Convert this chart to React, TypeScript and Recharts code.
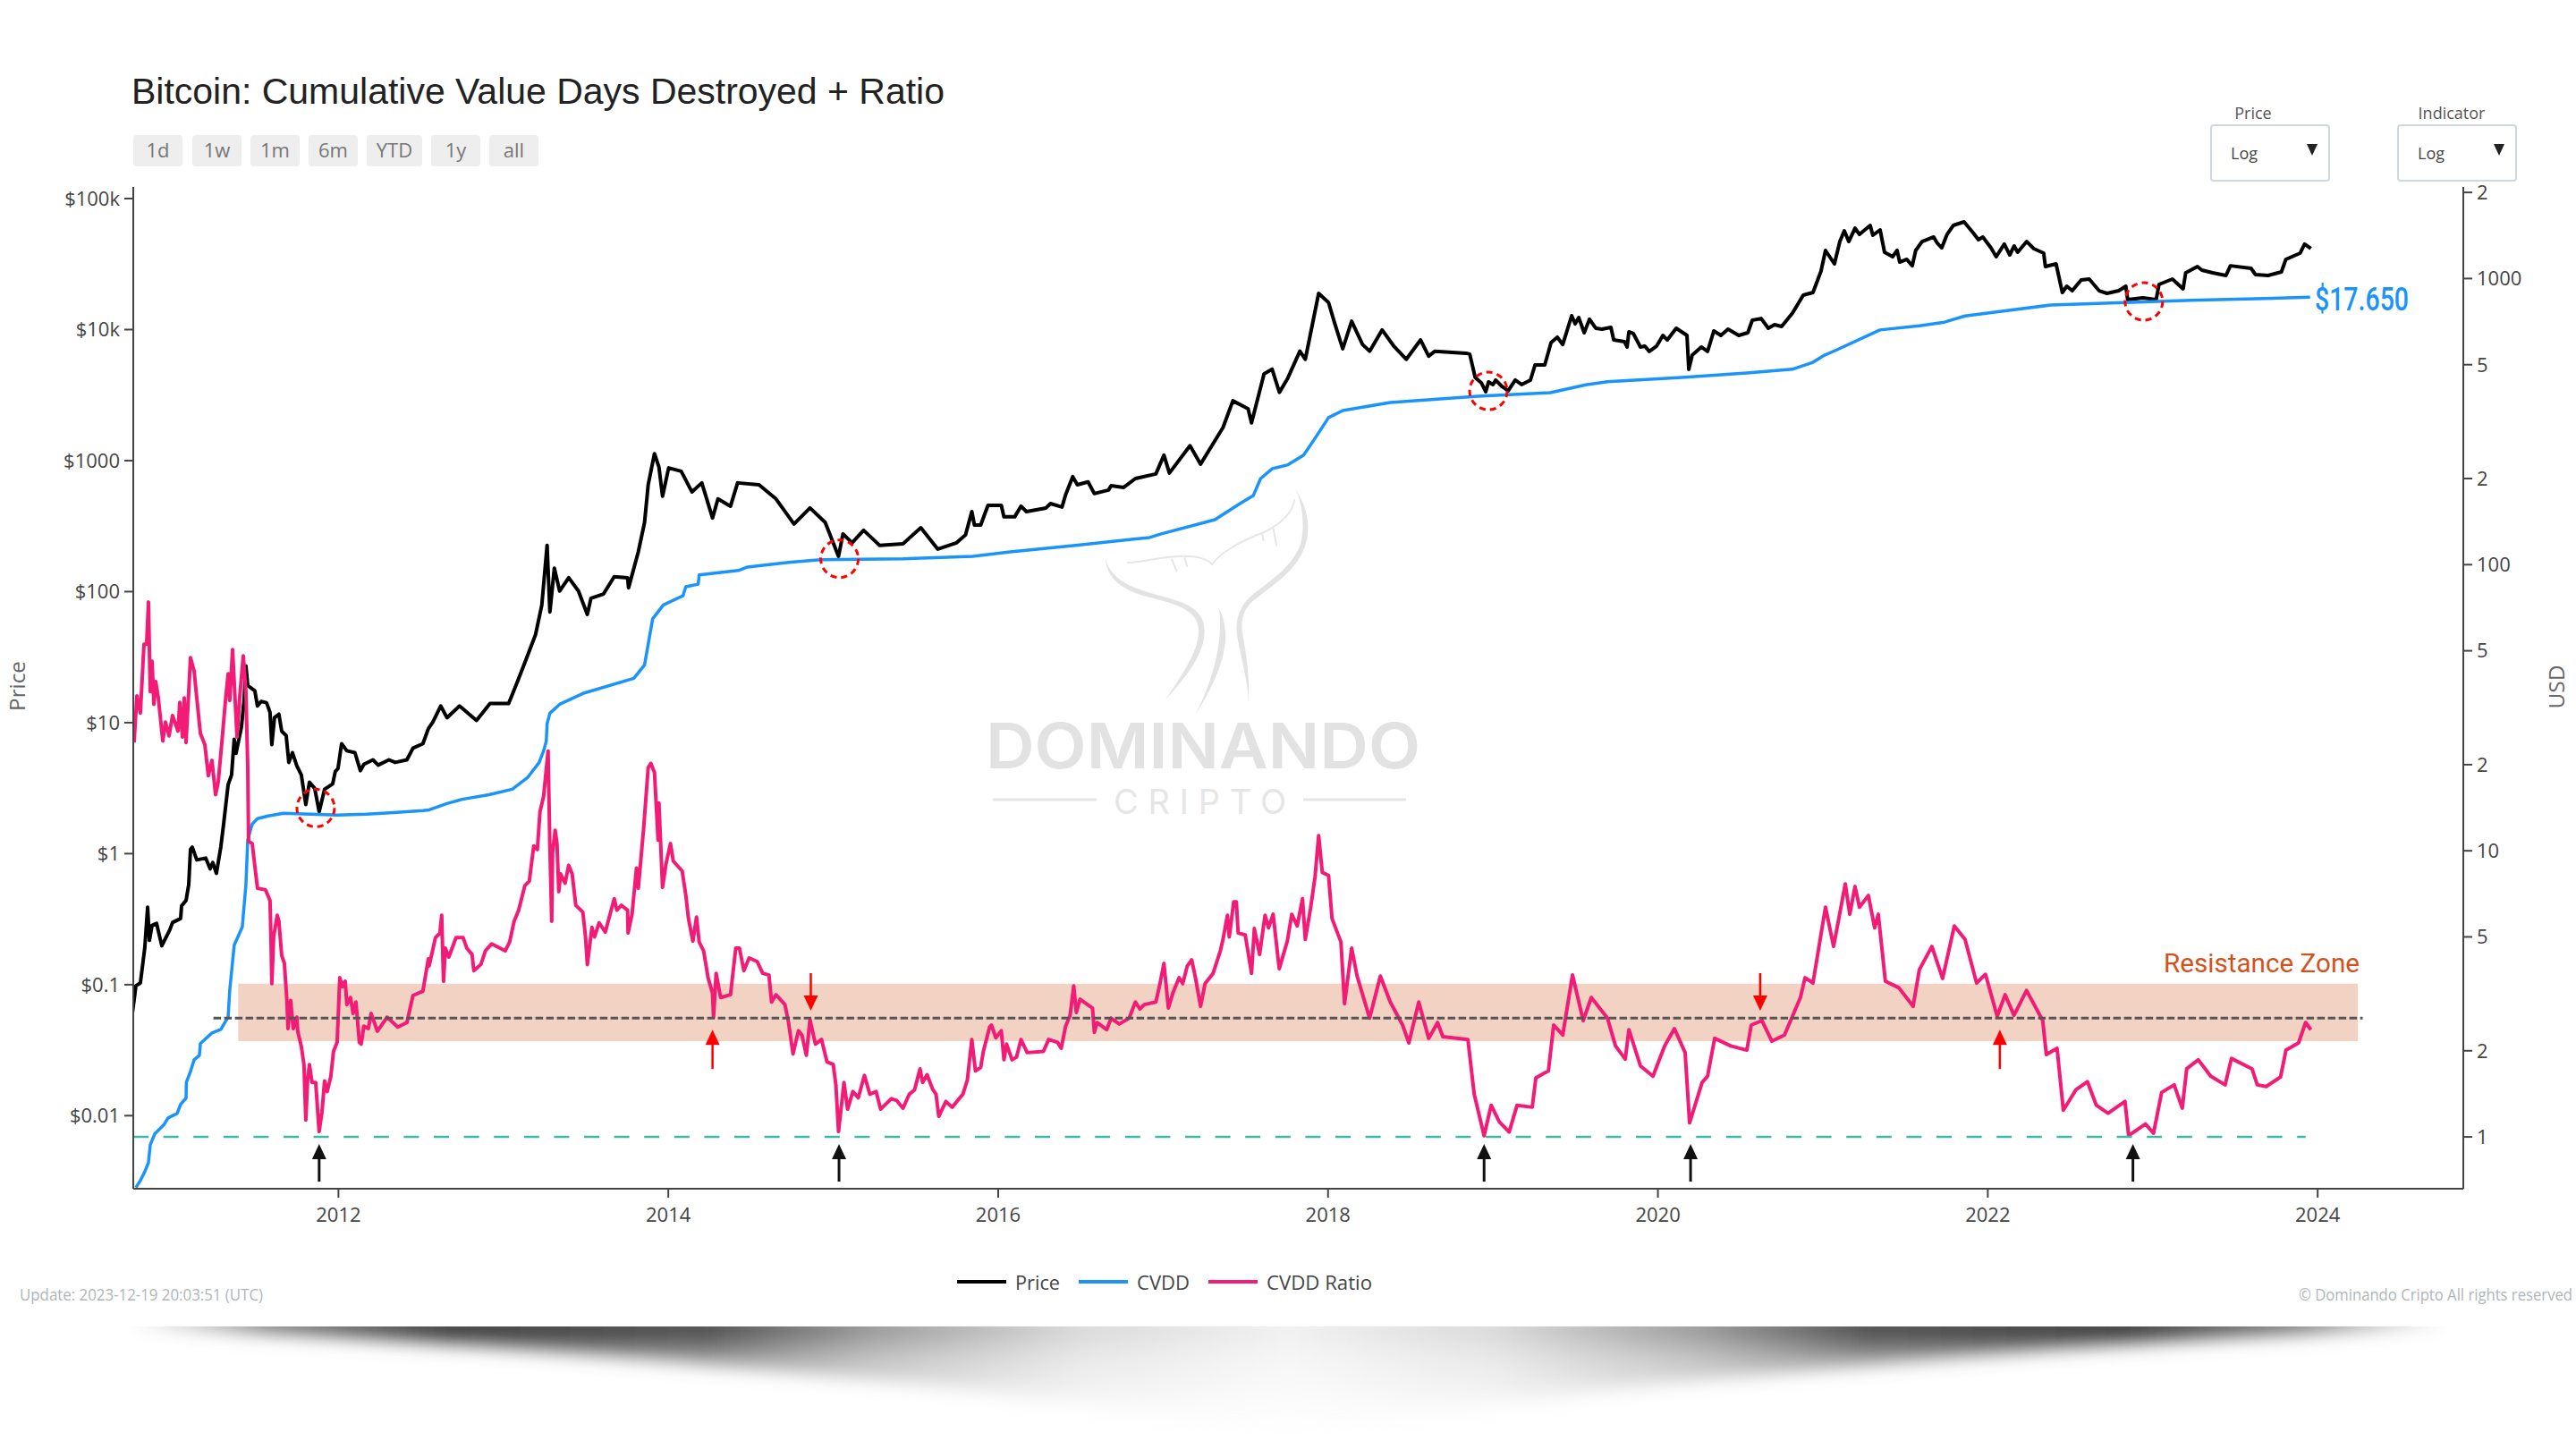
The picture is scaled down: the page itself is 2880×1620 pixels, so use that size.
import React from "react";
import {
	LineChart,
	Line,
	XAxis,
	YAxis,
	ReferenceArea,
	ReferenceLine,
	ReferenceDot,
} from "recharts";

// [decimal year, USD]
const pricePoints: [number, number][] = [
	[2010.751, 0.061], [2010.772, 0.098], [2010.799, 0.103], [2010.826, 0.192], [2010.843, 0.39], [2010.854, 0.218],
	[2010.87, 0.284], [2010.897, 0.294], [2010.929, 0.198], [2010.978, 0.263], [2010.994, 0.298], [2011.043, 0.32],
	[2011.049, 0.4], [2011.076, 0.44], [2011.092, 0.577], [2011.103, 1.08], [2011.114, 1.12], [2011.141, 0.896],
	[2011.195, 0.925], [2011.222, 0.766], [2011.238, 0.855], [2011.26, 0.708], [2011.287, 1.13], [2011.303, 1.65],
	[2011.331, 3.36], [2011.352, 3.99], [2011.368, 7.47], [2011.379, 5.82], [2011.412, 9.3], [2011.428, 14.9],
	[2011.439, 27.1], [2011.45, 19.2], [2011.493, 17.5], [2011.509, 13.4], [2011.531, 14.5], [2011.564, 14.2],
	[2011.585, 11.98], [2011.596, 6.8], [2011.612, 10.9], [2011.639, 11.6], [2011.656, 8.6], [2011.683, 7.96],
	[2011.699, 4.97], [2011.721, 5.9], [2011.748, 4.67], [2011.775, 3.99], [2011.802, 2.37], [2011.824, 3.51],
	[2011.856, 3.15], [2011.883, 2.09], [2011.916, 3.1], [2011.965, 3.41], [2011.981, 4.25], [2011.997, 4.45],
	[2012.019, 6.9], [2012.051, 6.1], [2012.1, 5.9], [2012.133, 4.3], [2012.154, 4.81], [2012.209, 5.2],
	[2012.241, 4.74], [2012.306, 5.2], [2012.344, 4.97], [2012.415, 5.2], [2012.452, 6.39], [2012.512, 6.9],
	[2012.545, 9.0], [2012.572, 10.1], [2012.62, 13.4], [2012.658, 10.9], [2012.734, 13.4], [2012.837, 10.4],
	[2012.919, 14], [2013.032, 14], [2013.087, 20.8], [2013.135, 29.8], [2013.195, 47], [2013.233, 79],
	[2013.265, 225], [2013.282, 70], [2013.309, 151], [2013.341, 101], [2013.396, 127.6], [2013.455, 101],
	[2013.509, 67], [2013.531, 89], [2013.607, 96], [2013.672, 130], [2013.753, 127.6], [2013.759, 107],
	[2013.818, 201], [2013.856, 338], [2013.878, 654], [2013.916, 1130], [2013.943, 895], [2013.965, 534],
	[2014.002, 880], [2014.078, 830], [2014.143, 577], [2014.203, 676], [2014.268, 365], [2014.301, 510],
	[2014.377, 449], [2014.42, 676], [2014.55, 654], [2014.653, 510], [2014.762, 328], [2014.859, 435],
	[2014.951, 338], [2015.032, 186], [2015.059, 276], [2015.114, 236], [2015.184, 294], [2015.282, 225],
	[2015.423, 232], [2015.531, 307], [2015.634, 211], [2015.748, 236], [2015.802, 271], [2015.84, 408],
	[2015.856, 322], [2015.894, 322], [2015.938, 455], [2016.019, 455], [2016.035, 372], [2016.1, 372],
	[2016.138, 449], [2016.171, 408], [2016.29, 435], [2016.317, 470], [2016.387, 442], [2016.409, 550],
	[2016.452, 754], [2016.48, 654], [2016.545, 688], [2016.583, 560], [2016.669, 596], [2016.685, 644],
	[2016.761, 624], [2016.832, 730], [2016.956, 791], [2017.005, 1100],
	[2017.038, 804], [2017.163, 1300], [2017.227, 940], [2017.363, 1789], [2017.423, 2860], [2017.515, 2490],
	[2017.536, 1940], [2017.612, 4600], [2017.661, 4980], [2017.705, 3320], [2017.753, 4190], [2017.829, 6840],
	[2017.862, 5930], [2017.943, 18900], [2018.003, 16100], [2018.041, 11100], [2018.089, 7130], [2018.143, 11600],
	[2018.209, 7700], [2018.252, 6840], [2018.328, 9940], [2018.398, 7500], [2018.474, 5930], [2018.561, 8340],
	[2018.61, 6270], [2018.648, 6840], [2018.837, 6600], [2018.859, 6500], [2018.892, 4315], [2018.929, 3925],
	[2018.956, 3354], [2018.973, 3990], [2019.0, 3804], [2019.016, 4115], [2019.054, 3687], [2019.092, 3408],
	[2019.135, 4115], [2019.173, 3804], [2019.227, 4115], [2019.255, 5375], [2019.314, 5375], [2019.352, 7960],
	[2019.39, 8750], [2019.423, 7690], [2019.477, 12760], [2019.498, 11060], [2019.52, 12350], [2019.553, 9460],
	[2019.585, 12000], [2019.623, 10240], [2019.661, 10080], [2019.715, 10400], [2019.732, 8340], [2019.797, 8090],
	[2019.813, 7360], [2019.824, 9620], [2019.851, 9320], [2019.894, 7360], [2019.921, 7480], [2019.948, 6808],
	[2019.992, 7480], [2020.03, 9030], [2020.057, 8340], [2020.111, 10240], [2020.176, 9030], [2020.187, 4969],
	[2020.208, 6390], [2020.263, 7360], [2020.301, 6808], [2020.339, 9770], [2020.382, 9030], [2020.425, 10080],
	[2020.49, 9030], [2020.545, 9460], [2020.572, 11800], [2020.626, 12150], [2020.669, 10240], [2020.707, 10900],
	[2020.75, 10570], [2020.816, 13370], [2020.881, 18320], [2020.94, 19190], [2020.989, 27990], [2021.016, 40200],
	[2021.07, 31740], [2021.103, 47000], [2021.13, 56800], [2021.157, 47000], [2021.195, 59500], [2021.222, 53300],
	[2021.287, 62400], [2021.303, 52500], [2021.347, 57700], [2021.374, 38950], [2021.423, 36000], [2021.45, 40200],
	[2021.466, 32750], [2021.509, 34350], [2021.542, 30700], [2021.563, 40200], [2021.601, 47000], [2021.672, 50900],
	[2021.694, 45600], [2021.721, 42100], [2021.753, 53300], [2021.791, 62400], [2021.856, 66450], [2021.91, 55000],
	[2021.943, 48500], [2021.97, 50900], [2022.019, 42100], [2022.051, 36000], [2022.1, 44900], [2022.133, 37150],
	[2022.16, 43500], [2022.181, 38950], [2022.236, 47000], [2022.279, 41500], [2022.339, 38350], [2022.349, 30300],
	[2022.414, 31740], [2022.452, 19190], [2022.479, 21430], [2022.512, 19800], [2022.566, 23930], [2022.615, 24300],
	[2022.675, 19800], [2022.723, 18900], [2022.794, 19800], [2022.837, 21430], [2022.848, 16930], [2022.94, 17470],
	[2023.021, 16930], [2023.038, 22120], [2023.119, 24300], [2023.184, 20450], [2023.2, 27120], [2023.271, 30300],
	[2023.298, 28440], [2023.363, 27120], [2023.444, 25880], [2023.471, 30700], [2023.596, 29350], [2023.623, 26300],
	[2023.699, 25880], [2023.78, 27560], [2023.807, 34350], [2023.894, 38350], [2023.921, 44900], [2023.959, 41500],
];

const cvddPoints: [number, number][] = [
	[2010.772, 0.00283], [2010.799, 0.0032], [2010.826, 0.00374], [2010.848, 0.00438], [2010.859, 0.006], [2010.886, 0.00725],
	[2010.94, 0.00848], [2010.967, 0.0096], [2011.022, 0.0104], [2011.043, 0.0122], [2011.076, 0.0136], [2011.078, 0.018],
	[2011.103, 0.0218], [2011.125, 0.0267], [2011.157, 0.0289], [2011.163, 0.0355], [2011.233, 0.0428], [2011.287, 0.0456],
	[2011.331, 0.0568], [2011.341, 0.091], [2011.368, 0.2], [2011.417, 0.276], [2011.439, 0.58], [2011.45, 1.27],
	[2011.477, 1.68], [2011.509, 1.85], [2011.574, 1.94], [2011.667, 2.03], [2011.829, 2.0], [2011.992, 1.97],
	[2012.17, 2.0], [2012.333, 2.06], [2012.512, 2.13], [2012.55, 2.16], [2012.658, 2.41], [2012.75, 2.6],
	[2012.913, 2.82], [2013.054, 3.1], [2013.146, 3.8], [2013.217, 4.97], [2013.244, 6.1], [2013.26, 7.2],
	[2013.265, 9.8], [2013.282, 11.8], [2013.341, 13.8], [2013.482, 16.7], [2013.791, 21.8], [2013.856, 27.6],
	[2013.905, 62], [2013.97, 79], [2014.089, 93], [2014.106, 109], [2014.181, 114], [2014.187, 134],
	[2014.425, 145], [2014.48, 154], [2014.729, 167], [2014.924, 175], [2015.423, 178], [2015.845, 186],
	[2016.073, 201], [2016.469, 225], [2016.918, 259], [2016.989, 276], [2017.314, 354], [2017.466, 470],
	[2017.547, 542], [2017.591, 730], [2017.661, 867], [2017.753, 925], [2017.851, 1100], [2017.91, 1410],
	[2018.003, 2130], [2018.089, 2410], [2018.377, 2780], [2018.908, 3100], [2019.347, 3300], [2019.569, 3800],
	[2019.694, 4000], [2020.144, 4320], [2020.539, 4660], [2020.815, 4980], [2020.94, 5630], [2021.01, 6380],
	[2021.086, 7020], [2021.346, 9940], [2021.585, 10700], [2021.737, 11400], [2021.862, 12700], [2022.084, 13800],
	[2022.382, 15400], [2022.832, 16100], [2023.228, 16700], [2023.954, 17650],
];

const ratioPoints: [number, number][] = [
	[2010.761, 23.9], [2010.778, 34.8], [2010.799, 30.3], [2010.821, 52.7], [2010.837, 52.7], [2010.848, 74],
	[2010.859, 36], [2010.87, 46], [2010.881, 32.5], [2010.892, 39], [2010.908, 34.2], [2010.935, 24.2],
	[2010.951, 28.2], [2010.973, 25.2], [2010.994, 29.7], [2011.027, 26.2], [2011.038, 33], [2011.054, 25],
	[2011.065, 34.2], [2011.076, 23.9], [2011.103, 47.3], [2011.125, 42.5], [2011.141, 34.2], [2011.163, 25.7],
	[2011.19, 23.5], [2011.211, 18.3], [2011.233, 20.7], [2011.255, 15.7], [2011.271, 17.4], [2011.293, 23.9],
	[2011.314, 33], [2011.331, 41.6], [2011.341, 33.5], [2011.358, 50.5], [2011.385, 25], [2011.401, 34.2],
	[2011.423, 48], [2011.439, 36], [2011.45, 19.7], [2011.455, 10.8], [2011.477, 10.6], [2011.509, 7.4],
	[2011.558, 7.3], [2011.585, 6.7], [2011.591, 4.9], [2011.596, 3.43], [2011.607, 5.0], [2011.629, 5.95],
	[2011.639, 5.67], [2011.656, 4.3], [2011.672, 4.05], [2011.688, 2.96], [2011.694, 2.39], [2011.71, 3.0],
	[2011.726, 2.39], [2011.748, 2.62], [2011.753, 2.34], [2011.775, 2.07], [2011.791, 1.79], [2011.802, 1.146],
	[2011.813, 1.58], [2011.824, 1.79], [2011.84, 1.55], [2011.862, 1.55], [2011.883, 1.044], [2011.9, 1.22],
	[2011.916, 1.57], [2011.932, 1.44], [2011.954, 1.63], [2011.97, 1.99], [2011.992, 2.14], [2012.008, 3.6],
	[2012.024, 3.35], [2012.041, 3.5], [2012.051, 2.9], [2012.073, 3.07], [2012.089, 2.7], [2012.106, 2.96],
	[2012.127, 2.14], [2012.138, 2.11], [2012.154, 2.44], [2012.181, 2.39], [2012.198, 2.7], [2012.236, 2.34],
	[2012.295, 2.62], [2012.36, 2.42], [2012.415, 2.51], [2012.452, 3.12], [2012.512, 3.23], [2012.545, 4.19],
	[2012.55, 3.96], [2012.588, 4.97], [2012.615, 5.16], [2012.626, 5.95], [2012.637, 3.5], [2012.648, 4.57],
	[2012.669, 4.25], [2012.713, 4.97], [2012.756, 4.97], [2012.778, 4.57], [2012.81, 4.34], [2012.821, 3.81],
	[2012.864, 4.01], [2012.891, 4.47], [2012.929, 4.73], [2013.011, 4.47], [2013.038, 4.8], [2013.065, 5.67],
	[2013.092, 6.18], [2013.13, 7.55], [2013.157, 7.83], [2013.184, 10.4], [2013.206, 10.1], [2013.222, 13.7],
	[2013.244, 15.5], [2013.271, 22.3], [2013.282, 10.3], [2013.293, 5.67], [2013.298, 9.85], [2013.314, 11.8],
	[2013.325, 10.6], [2013.336, 7.2], [2013.347, 8.3], [2013.374, 7.7], [2013.396, 8.9], [2013.417, 8.3],
	[2013.439, 6.45], [2013.482, 6.1], [2013.498, 5.0], [2013.509, 4.0], [2013.537, 5.4], [2013.553, 5.0],
	[2013.58, 5.6], [2013.618, 5.2], [2013.672, 6.8], [2013.688, 6.2], [2013.715, 6.45], [2013.753, 6.2],
	[2013.756, 5.16], [2013.78, 6.0], [2013.807, 8.7], [2013.818, 7.4], [2013.851, 12.1], [2013.878, 19.5],
	[2013.894, 20.2], [2013.916, 18.8], [2013.938, 10.9], [2013.943, 14.7], [2013.965, 7.45], [2013.986, 9.0],
	[2014.013, 10.6], [2014.03, 9.2], [2014.084, 8.5], [2014.106, 7.0], [2014.122, 5.8], [2014.149, 4.83],
	[2014.171, 5.87], [2014.187, 4.8], [2014.214, 4.47], [2014.241, 3.6], [2014.268, 3.18], [2014.274, 2.62],
	[2014.29, 3.73], [2014.317, 3.07], [2014.377, 3.14], [2014.409, 4.57], [2014.431, 4.57], [2014.458, 3.81],
	[2014.49, 4.22], [2014.539, 4.1], [2014.572, 3.73], [2014.61, 3.68], [2014.626, 2.96], [2014.653, 3.14],
	[2014.707, 2.9], [2014.729, 2.51], [2014.756, 1.95], [2014.789, 2.35], [2014.81, 2.27], [2014.837, 1.93],
	[2014.859, 2.57], [2014.892, 2.11], [2014.929, 2.19], [2014.962, 1.83], [2015.0, 1.79], [2015.016, 1.52],
	[2015.032, 1.044], [2015.065, 1.55], [2015.087, 1.25], [2015.119, 1.44], [2015.152, 1.37], [2015.189, 1.64],
	[2015.222, 1.41], [2015.26, 1.44], [2015.287, 1.25], [2015.352, 1.36], [2015.385, 1.34], [2015.423, 1.26],
	[2015.461, 1.41], [2015.493, 1.46], [2015.526, 1.73], [2015.542, 1.55], [2015.569, 1.65], [2015.602, 1.47],
	[2015.623, 1.41], [2015.64, 1.18], [2015.683, 1.33], [2015.721, 1.27], [2015.786, 1.41], [2015.813, 1.58],
	[2015.84, 2.19], [2015.862, 1.7], [2015.894, 1.75], [2015.91, 1.99], [2015.948, 2.42], [2015.959, 2.46],
	[2015.986, 2.22], [2016.019, 2.35], [2016.035, 1.86], [2016.051, 2.11], [2016.084, 1.86], [2016.111, 1.9],
	[2016.138, 2.19], [2016.176, 1.97], [2016.274, 1.99], [2016.306, 2.19], [2016.36, 2.14], [2016.382, 2.04],
	[2016.409, 2.44], [2016.436, 2.66], [2016.458, 3.37], [2016.474, 2.72], [2016.496, 3.03], [2016.572, 2.82],
	[2016.583, 2.32], [2016.599, 2.51], [2016.658, 2.37], [2016.685, 2.6], [2016.734, 2.48], [2016.794, 2.6],
	[2016.832, 2.96], [2016.859, 2.8], [2016.886, 2.9], [2016.956, 2.96], [2016.978, 3.37], [2017.005, 4.04],
	[2017.032, 2.82], [2017.059, 3.18], [2017.097, 3.6], [2017.119, 3.43], [2017.146, 3.95], [2017.173, 4.16],
	[2017.195, 3.63], [2017.227, 2.86], [2017.254, 3.43], [2017.303, 3.73], [2017.347, 4.47], [2017.363, 4.9],
	[2017.39, 5.95], [2017.401, 5.0], [2017.428, 6.63], [2017.444, 6.63], [2017.455, 5.16], [2017.498, 5.08],
	[2017.536, 3.73], [2017.553, 5.35], [2017.585, 4.34], [2017.618, 5.95], [2017.639, 5.38], [2017.667, 6.0],
	[2017.704, 3.87], [2017.753, 4.83], [2017.78, 6.0], [2017.813, 5.46], [2017.845, 6.8], [2017.862, 4.9],
	[2017.894, 6.3], [2017.921, 8.1], [2017.943, 11.3], [2017.965, 8.4], [2018.003, 8.2], [2018.024, 5.8],
	[2018.078, 4.8], [2018.1, 2.92], [2018.143, 4.57], [2018.176, 3.65], [2018.252, 2.6], [2018.317, 3.65],
	[2018.377, 2.96], [2018.452, 2.46], [2018.49, 2.13], [2018.55, 2.96], [2018.61, 2.21], [2018.664, 2.51],
	[2018.696, 2.24], [2018.848, 2.19], [2018.886, 1.41], [2018.946, 1.01], [2018.989, 1.29], [2019.038, 1.13],
	[2019.098, 1.04], [2019.146, 1.29], [2019.238, 1.27], [2019.26, 1.61], [2019.336, 1.7], [2019.368, 2.46],
	[2019.423, 2.27], [2019.482, 3.68], [2019.547, 2.55], [2019.596, 3.07], [2019.694, 2.6], [2019.743, 2.08],
	[2019.802, 1.87], [2019.824, 2.37], [2019.894, 1.77], [2019.97, 1.63], [2020.041, 2.08], [2020.1, 2.39],
	[2020.165, 1.97], [2020.192, 1.12], [2020.268, 1.55], [2020.301, 1.63], [2020.344, 2.21], [2020.442, 2.08],
	[2020.539, 2.01], [2020.566, 2.46], [2020.631, 2.55], [2020.691, 2.16], [2020.767, 2.27], [2020.864, 3.07],
	[2020.892, 3.6], [2020.94, 3.45], [2021.016, 6.35], [2021.065, 4.63], [2021.136, 7.66], [2021.163, 6.0],
	[2021.195, 7.5], [2021.222, 6.35], [2021.276, 6.98], [2021.314, 5.38], [2021.336, 6.0], [2021.379, 3.5],
	[2021.461, 3.32], [2021.547, 2.86], [2021.585, 3.84], [2021.661, 4.63], [2021.726, 3.58], [2021.797, 5.46],
	[2021.862, 4.9], [2021.932, 3.45], [2021.986, 3.7], [2022.057, 2.64], [2022.105, 3.14], [2022.159, 2.66],
	[2022.235, 3.25], [2022.333, 2.55], [2022.355, 1.94], [2022.42, 2.04], [2022.458, 1.24], [2022.534, 1.46],
	[2022.604, 1.56], [2022.658, 1.29], [2022.729, 1.21], [2022.832, 1.33], [2022.854, 1.01], [2022.956, 1.11],
	[2023.005, 1.03], [2023.054, 1.43], [2023.13, 1.52], [2023.179, 1.26], [2023.206, 1.73], [2023.276, 1.86],
	[2023.352, 1.63], [2023.439, 1.52], [2023.477, 1.88], [2023.602, 1.73], [2023.634, 1.52], [2023.688, 1.5],
	[2023.775, 1.62], [2023.808, 2.01], [2023.884, 2.13], [2023.927, 2.51], [2023.959, 2.37],
];

const yearTicks = [2012, 2014, 2016, 2018, 2020, 2022, 2024];
const priceTicks = [0.01, 0.1, 1, 10, 100, 1000, 10000, 100000];
const priceTickLabels = ["$0.01", "$0.1", "$1", "$10", "$100", "$1000", "$10k", "$100k"];
const ratioTicks = [1, 2, 5, 10, 20, 50, 100, 200, 500, 1000, 2000];
const ratioTickLabels = ["1", "2", "5", "10", "2", "5", "100", "2", "5", "1000", "2"];
const rangeButtons = ["1d", "1w", "1m", "6m", "YTD", "1y", "all"];

// touch points of the price with the CVDD, and the marked ratio lows / tests
const circleSpots: [number, number][] = [[2011.862, 2.23], [2015.038, 178], [2018.972, 3400], [2022.946, 16400]];
const blackArrowYears = [2011.883, 2015.035, 2018.946, 2020.198, 2022.88];
const redUpYears = [2014.268, 2022.073];
const redDownYears = [2014.864, 2020.62];

const toRows = (points: [number, number][]) => points.map(([year, value]) => ({ year, value }));
const priceData = toRows(pricePoints);
const cvddData = toRows(cvddPoints);
const ratioData = toRows(ratioPoints);

const axisFont = "'Open Sans', sans-serif";
const axisText = { fill: "#444", fontSize: 22, fontFamily: axisFont };
const axisLine = { stroke: "#444", strokeWidth: 2 };

const Circle = (props: any) => (
	<circle cx={props.cx} cy={props.cy} r={21} fill="none" stroke="#f00" strokeWidth={3} strokeDasharray="7 5" />
);

const arrowUp = (color: string, length: number, width: number) => (props: any) => (
	<g>
		<line x1={props.cx} y1={props.cy + 12} x2={props.cx} y2={props.cy + length} stroke={color} strokeWidth={width} />
		<path d={`M${props.cx} ${props.cy} l8 17 h-16 z`} fill={color} />
	</g>
);

const arrowDown = (color: string, length: number, width: number) => (props: any) => (
	<g>
		<line x1={props.cx} y1={props.cy - 12} x2={props.cx} y2={props.cy - length} stroke={color} strokeWidth={width} />
		<path d={`M${props.cx} ${props.cy} l8 -17 h-16 z`} fill={color} />
	</g>
);

const Txt = ({ x, y, w, adjust, anchor, children, ...rest }: any) => (
	<text
		x={x}
		y={y}
		dominantBaseline="central"
		textAnchor={anchor || "start"}
		textLength={w}
		lengthAdjust={w ? adjust || "spacingAndGlyphs" : undefined}
		{...rest}
	>
		{children}
	</text>
);

const Watermark = () => (
	<svg width={2880} height={1620} style={{ position: "absolute", left: 0, top: 0 }}>
		<g transform="translate(1080 530) scale(0.3333)" fill="#e3e3e3">
			<path d="M468 280 C470 360 540 395 620 415 C700 435 775 455 780 520 C785 590 720 680 668 758 C740 680 802 600 800 525 C800 440 710 425 630 402 C550 380 480 350 468 280 Z" />
			<path d="M848 450 C860 520 850 650 770 805 C840 700 875 600 870 530 C868 500 860 470 848 450 Z" />
			<path d="M1105 50 C1135 110 1135 200 1120 240 C1090 320 1000 370 950 415 C915 450 905 490 908 530 C915 590 940 660 948 760 C952 680 940 600 928 540 C920 490 930 450 970 420 C1040 365 1130 310 1145 210 C1155 140 1130 90 1105 50 Z" />
			<path
				d="M540 298 C600 295 660 275 730 275 C780 275 810 285 826 303 C850 265 920 225 1000 195 C1050 170 1095 135 1102 85 M690 285 L708 328 M733 280 L742 312 M993 195 L998 225 M1030 178 L1042 242"
				fill="none"
				stroke="#e6e6e6"
				strokeWidth={6}
			/>
		</g>
		<Txt x={1102} y={833} w={486} fill="#e2e2e2" fontSize={70} fontWeight={600} fontFamily="Inter, sans-serif">DOMINANDO</Txt>
		<Txt x={1245} y={896} w={193} adjust="spacing" fill="#e6e6e6" fontSize={38} fontFamily="Inter, sans-serif">CRIPTO</Txt>
		<line x1={1110} y1={894} x2={1226} y2={894} stroke="#e6e6e6" strokeWidth={3} />
		<line x1={1457} y1={894} x2={1572} y2={894} stroke="#e6e6e6" strokeWidth={3} />
	</svg>
);

const Decorations = () => {
	const buttons = [[149, 55], [215, 55], [280, 55], [345, 55], [410, 62], [482, 55], [547, 55]];
	const selectors = [
		{ name: "Price", left: 2472, labelX: 2519 },
		{ name: "Indicator", left: 2681, labelX: 2741 },
	];
	const legend = [
		{ name: "Price", color: "#000", x1: 1070, x2: 1125, tx: 1135, w: 50 },
		{ name: "CVDD", color: "#1a94fb", x1: 1206, x2: 1261, tx: 1271, w: 59 },
		{ name: "CVDD Ratio", color: "#f21b75", x1: 1351, x2: 1406, tx: 1416, w: 118 },
	];
	return (
		<svg width={2880} height={1620} style={{ position: "absolute", left: 0, top: 0 }}>
			<defs>
				<linearGradient id="shadowColor" gradientUnits="userSpaceOnUse" x1="145" x2="2735" y1="0" y2="0">
					<stop offset="0" stopColor="#fff" />
					<stop offset="0.06" stopColor="#777" />
					<stop offset="0.137" stopColor="#3a3a3a" />
					<stop offset="0.25" stopColor="#4a4a4a" />
					<stop offset="0.32" stopColor="#969696" />
					<stop offset="0.41" stopColor="#d8d8d8" />
					<stop offset="0.5" stopColor="#f0f0f0" />
					<stop offset="0.59" stopColor="#d8d8d8" />
					<stop offset="0.68" stopColor="#969696" />
					<stop offset="0.75" stopColor="#4a4a4a" />
					<stop offset="0.863" stopColor="#3a3a3a" />
					<stop offset="0.94" stopColor="#777" />
					<stop offset="1" stopColor="#fff" />
				</linearGradient>
				<linearGradient id="shadowFade" x1="0" x2="0" y1="0" y2="1">
					<stop offset="0" stopColor="#fff" />
					<stop offset="0.25" stopColor="#999" />
					<stop offset="0.7" stopColor="#222" />
					<stop offset="1" stopColor="#000" />
				</linearGradient>
				<mask id="shadowMask" maskUnits="userSpaceOnUse" x="0" y="1483" width="2880" height="137">
					<rect x="0" y="1483" width="2880" height="137" fill="url(#shadowFade)" />
				</mask>
				<filter id="shadowBlur" x="-5%" y="-30%" width="110%" height="160%">
					<feGaussianBlur stdDeviation="10" />
				</filter>
				<clipPath id="shadowClip">
					<rect x="0" y="1483" width="2880" height="137" />
				</clipPath>
			</defs>
			<g clipPath="url(#shadowClip)">
				<g mask="url(#shadowMask)">
					<path
						d="M145 1470 L2735 1470 L2735 1483 C2300 1505 2050 1530 1900 1545 C1700 1565 1550 1600 1440 1600 C1330 1600 1180 1565 980 1545 C830 1530 580 1505 145 1483 Z"
						fill="url(#shadowColor)"
						filter="url(#shadowBlur)"
					/>
				</g>
			</g>

			<Txt x={147} y={102} w={909} fontSize={40} fill="#222" fontFamily="'Liberation Sans', Arial, sans-serif">
				Bitcoin: Cumulative Value Days Destroyed + Ratio
			</Txt>
			{rangeButtons.map((label, i) => (
				<g key={label}>
					<rect x={buttons[i][0]} y={151} width={buttons[i][1]} height={35} rx={4} fill="#eee" />
					<Txt x={buttons[i][0] + buttons[i][1] / 2} y={167} anchor="middle" fontSize={22} fill="#777" fontFamily={axisFont}>
						{label}
					</Txt>
				</g>
			))}
			{selectors.map((s) => (
				<g key={s.name} fontFamily={axisFont}>
					<Txt x={s.labelX} y={126} anchor="middle" fontSize={18} fill="#555">{s.name}</Txt>
					<rect x={s.left} y={140} width={132} height={62} rx={3} fill="#fff" stroke="#cfd8e0" strokeWidth={2} />
					<Txt x={s.left + 22} y={171} fontSize={18} fill="#444">Log</Txt>
					<path d={`M${s.left + 107} 161 h12 l-6 13 z`} fill="#222" />
				</g>
			))}
			<Txt x={18} y={767} w={56} anchor="middle" fontSize={24} fill="#666" fontFamily={axisFont} transform="rotate(-90 18 767)">Price</Txt>
			<Txt x={2857} y={768} w={49} anchor="middle" fontSize={24} fill="#666" fontFamily={axisFont} transform="rotate(-90 2857 768)">USD</Txt>
			<Txt x={2588} y={335} w={105} fontSize={36} fontWeight={500} fill="#1a94fb" fontFamily="Roboto, sans-serif">$17.650</Txt>
			<Txt x={2419} y={1077} w={219} fontSize={29} fontWeight={400} fill="#d2521c" fontFamily="Roboto, sans-serif">Resistance Zone</Txt>
			{legend.map((item) => (
				<g key={item.name}>
					<line x1={item.x1} y1={1433} x2={item.x2} y2={1433} stroke={item.color} strokeWidth={4} />
					<Txt x={item.tx} y={1433} w={item.w} fontSize={22} fill="#444" fontFamily={axisFont}>{item.name}</Txt>
				</g>
			))}
			<Txt x={22} y={1447} w={272} fontSize={18} fill="#b0b5b8" fontFamily={axisFont}>Update: 2023-12-19 20:03:51 (UTC)</Txt>
			<Txt x={2570} y={1447} w={306} fontSize={18} fill="#b0b5b8" fontFamily={axisFont}>© Dominando Cripto All rights reserved</Txt>
		</svg>
	);
};

export default function App() {
	return (
		<div style={{ position: "absolute", left: 0, top: 0, width: 2880, height: 1620, background: "#fff", overflow: "hidden" }}>
			<Watermark />
			<div style={{ position: "absolute", left: 0, top: 0 }}>
				<LineChart width={2880} height={1620} margin={{ top: 209, right: 66, bottom: 231, left: 89 }}>
					<XAxis
						dataKey="year"
						type="number"
						domain={[2010.756, 2024.883]}
						ticks={yearTicks}
						interval={0}
						allowDataOverflow
						height={60}
						tickSize={10}
						tickMargin={11}
						tickFormatter={(v: number) => String(v)}
						tick={axisText}
						axisLine={axisLine}
						tickLine={axisLine}
					/>
					<YAxis
						yAxisId="left"
						scale="log"
						domain={[0.00277, 122700]}
						ticks={priceTicks}
						interval={0}
						allowDataOverflow
						width={60}
						tickSize={10}
						tickMargin={5}
						tickFormatter={(v: number) => priceTickLabels[priceTicks.indexOf(v)]}
						tick={axisText}
						axisLine={axisLine}
						tickLine={axisLine}
					/>
					<YAxis
						yAxisId="right"
						orientation="right"
						scale="log"
						domain={[0.659, 2090]}
						ticks={ratioTicks}
						interval={0}
						allowDataOverflow
						width={60}
						tickSize={10}
						tickMargin={5}
						tickFormatter={(v: number) => ratioTickLabels[ratioTicks.indexOf(v)]}
						tick={axisText}
						axisLine={axisLine}
						tickLine={axisLine}
					/>
					<Line yAxisId="left" data={priceData} dataKey="value" name="Price" type="linear" stroke="#000" strokeWidth={4} strokeLinejoin="round" dot={false} isAnimationActive={false} />
					<Line yAxisId="left" data={cvddData} dataKey="value" name="CVDD" type="linear" stroke="#1a94fb" strokeWidth={3.5} strokeLinejoin="round" dot={false} isAnimationActive={false} />
					<Line yAxisId="right" data={ratioData} dataKey="value" name="CVDD Ratio" type="linear" stroke="#f21b75" strokeWidth={4} strokeLinejoin="round" dot={false} isAnimationActive={false} />
					<ReferenceArea yAxisId="right" x1={2011.392} x2={2024.244} y1={2.16} y2={3.43} fill="rgb(222,142,102)" fillOpacity={0.4} stroke="none" />
					<ReferenceLine
						yAxisId="right"
						segment={[{ x: 2011.242, y: 2.6 }, { x: 2024.273, y: 2.6 }]}
						stroke="#555"
						strokeWidth={3}
						strokeDasharray="8.5 3.5"
					/>
					<ReferenceLine
						yAxisId="right"
						segment={[{ x: 2010.756, y: 1 }, { x: 2023.927, y: 1 }]}
						stroke="#3fb8a5"
						strokeWidth={2.5}
						strokeDasharray="17 16.6"
					/>
					{circleSpots.map(([x, y]) => (
						<ReferenceDot key={x} yAxisId="left" x={x} y={y} shape={Circle} />
					))}
					{blackArrowYears.map((x) => (
						<ReferenceDot key={x} yAxisId="right" x={x} y={0.944} shape={arrowUp("#111", 42, 3)} />
					))}
					{redUpYears.map((x) => (
						<ReferenceDot key={x} yAxisId="right" x={x} y={2.37} shape={arrowUp("#f00", 44, 2.5)} />
					))}
					{redDownYears.map((x) => (
						<ReferenceDot key={x} yAxisId="right" x={x} y={2.76} shape={arrowDown("#f00", 42, 2.5)} />
					))}
				</LineChart>
			</div>
			<Decorations />
		</div>
	);
}
